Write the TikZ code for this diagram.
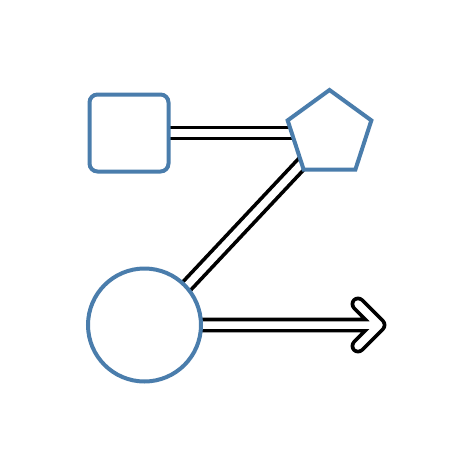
\documentclass[tikz,border=0pt]{standalone}
\usetikzlibrary{shapes.geometric,backgrounds}
\definecolor{shapeblue}{RGB}{74,125,172}
\begin{document}
\begin{tikzpicture}[x=1pt,y=-1pt,
  shapestyle/.style={draw=shapeblue,line width=4pt,fill=white,inner sep=0pt},
  link/.style={draw=black,line width=3.7pt,double=white,double distance=7.5pt},
  arrowlink/.style={link,line cap=round,line join=round}]
\path[use as bounding box] (0,0) rectangle (474,474);
\node[shapestyle,rectangle,rounded corners=8pt,minimum width=79pt,minimum height=77pt] (sq) at (129,133) {};
\node[shapestyle,regular polygon,regular polygon sides=5,minimum size=88pt] (pent) at (329.5,134) {};
\node[shapestyle,circle,minimum size=113pt] (circ) at (144.5,325) {};
\coordinate (diagend) at (144.5,331);
\coordinate (tip) at (379,325);
\coordinate (armup) at (358,304);
\coordinate (armdown) at (358,346);
\begin{scope}[on background layer]
\fill[white] (0,0) rectangle (474,474);
\draw[link] (sq.center) -- (sq.center -| pent.center);
\draw[link] (pent.center) -- (diagend);
\draw[arrowlink] (circ.center) -- (tip) (armup) -- (tip) -- (armdown);
\end{scope}
\end{tikzpicture}
\end{document}
